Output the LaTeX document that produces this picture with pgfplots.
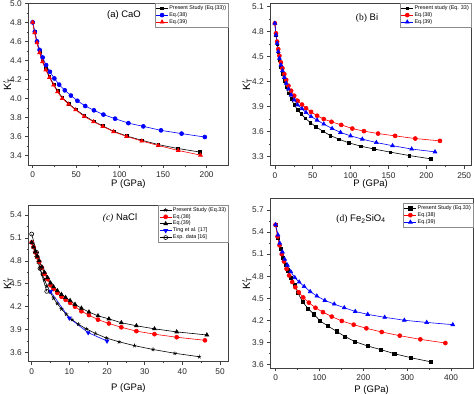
\documentclass[border=0pt]{standalone}
\usepackage{pgfplots}
\pgfplotsset{compat=1.18}
\usepackage{fontspec}
\setmainfont{Liberation Sans}
\newfontfamily\seriffont{Liberation Serif}
\newcommand{\KT}{K\rlap{\textsuperscript{$\prime$}}\textsubscript{T}}
\pgfplotsset{
  panel/.style={
    scale only axis, anchor=north west,
    axis line style={black!75, line width=0.6pt},
    tick align=outside, xtick pos=left, ytick pos=left,
    minor x tick num=1, minor y tick num=1,
    major tick length=3pt, minor tick length=1.6pt,
    every tick/.style={black!75, line width=0.5pt},
    /pgf/number format/assume math mode=true,
    tick label style={font=\fontsize{8.3}{9}\selectfont, black!85},
    yticklabel style={/pgf/number format/.cd, fixed, fixed zerofill, precision=1},
    xticklabel style={/pgf/number format/.cd, fixed, precision=0},
    label style={font=\fontsize{9.5}{10}\selectfont},
    ylabel style={font=\fontsize{10.5}{11}\selectfont},
    xlabel={P (GPa)}, ylabel={\KT},
    clip=false,
    legend cell align=left,
    legend style={at={(1,1)}, anchor=north east, draw=black!45, line width=0.4pt,
      font=\fontsize{5.4}{6}\selectfont, inner sep=1pt, row sep=-0.5pt,
      nodes={inner sep=1pt}},
    legend image code/.code={
      \draw[mark repeat=2, mark phase=2, #1] plot coordinates {(0pt,0pt) (6pt,0pt) (12pt,0pt)};
    },
  },
  ser/.style={line width=0.6pt, mark options={solid}},
}
\begin{document}
\begin{tikzpicture}[x=1pt,y=1pt]
\useasboundingbox (0,0) rectangle (474,-395);
% ---------------- (a) CaO
\begin{axis}[panel, at={(28.3pt,-3.3pt)}, width=200pt, height=161.7pt,
  xmin=-5, xmax=225, ymin=3.3, ymax=5.0,
  xtick={0,50,100,150,200}, ytick={3.4,3.6,3.8,4.0,4.2,4.4,4.6,4.8,5.0},
  xlabel style={at={(axis description cs:0.5,-0.1175)}, anchor=center},
  ylabel style={at={(axis description cs:-0.1015,0.5)}, anchor=center}]
\addplot[ser, black, mark=square*, mark size=1.3pt] coordinates {
(0,4.80)(2.3,4.70)(5,4.59)(7.9,4.49)(11.3,4.39)(15.1,4.31)(19.3,4.23)(24,4.15)(28.6,4.08)(34,4.01)(41.3,3.945)(49.4,3.885)(59.3,3.82)(70,3.76)(80.7,3.71)(93,3.655)(108,3.605)(125.5,3.56)(144.4,3.515)(166.6,3.474)(192.3,3.436)};
\addlegendentry{Present Study (Eq.(33))}
\addplot[ser, blue, mark=*, mark size=2pt] coordinates {
(0,4.80)(2.5,4.70)(5,4.60)(8,4.51)(11.5,4.43)(15.5,4.35)(19.8,4.28)(25,4.21)(30.5,4.145)(37,4.085)(44,4.03)(51.5,3.975)(60.5,3.92)(70.5,3.875)(81.4,3.83)(94.8,3.787)(110.1,3.74)(127.3,3.706)(147.6,3.664)(171.3,3.63)(198,3.594)};
\addlegendentry{Eq.(38)}
\addplot[ser, red, mark=triangle*, mark size=2.2pt] coordinates {
(0,4.80)(2.3,4.69)(5,4.585)(7.9,4.48)(11.3,4.385)(15.1,4.30)(19.3,4.22)(24,4.14)(28.6,4.07)(34,4.00)(41.3,3.94)(49.4,3.88)(59.3,3.81)(70,3.755)(80.7,3.706)(93,3.65)(108,3.60)(125.5,3.552)(144.5,3.505)(167.4,3.453)(193,3.404)};
\addlegendentry{Eq.(39)}
\node[font=\fontsize{9.5}{10}\selectfont] at (axis description cs:0.4785,0.928) {(a) CaO};
\end{axis}
% ---------------- (b) Bi
\begin{axis}[panel, at={(270.3pt,-3.3pt)}, width=200.7pt, height=162.4pt,
  xmin=-6, xmax=259, ymin=3.19, ymax=5.14,
  xtick={0,50,100,150,200,250}, ytick={3.3,3.6,3.9,4.2,4.5,4.8,5.1},
  xlabel style={at={(axis description cs:0.5,-0.1145)}, anchor=center},
  ylabel style={at={(axis description cs:-0.116,0.5)}, anchor=center}]
\addplot[ser, black, mark=square*, mark size=1.3pt] coordinates {
(0,4.90)(1.5,4.76)(3,4.65)(4.5,4.55)(6,4.46)(8,4.37)(10,4.29)(12.5,4.21)(15,4.13)(18,4.06)(21.5,3.99)(25.6,3.92)(30,3.86)(34.9,3.81)(40.2,3.76)(46.9,3.708)(54.4,3.656)(63.2,3.605)(73.4,3.552)(84.5,3.509)(97.8,3.464)(113.3,3.425)(131,3.39)(152.3,3.353)(177.5,3.312)(206,3.272)};
\addlegendentry{Present study (Eq. 33)}
\addplot[ser, red, mark=*, mark size=2pt] coordinates {
(0,4.90)(1.5,4.78)(3,4.68)(4.5,4.59)(6,4.51)(8,4.43)(10,4.36)(12.5,4.29)(15,4.22)(18,4.15)(21.5,4.09)(25.6,4.03)(30,3.97)(35.9,3.924)(41.2,3.88)(47.8,3.836)(55.8,3.79)(64.6,3.75)(74.8,3.717)(87.6,3.68)(102.3,3.636)(117.7,3.605)(136.3,3.576)(158.8,3.548)(185.4,3.516)(218,3.488)};
\addlegendentry{Eq.(38)}
\addplot[ser, blue, mark=triangle*, mark size=2.2pt] coordinates {
(0,4.90)(1.5,4.76)(3,4.66)(4.5,4.56)(6,4.48)(8,4.40)(10,4.33)(12.5,4.25)(15,4.18)(18,4.11)(21.5,4.04)(25.6,3.98)(30,3.92)(35.9,3.873)(41.2,3.828)(47.8,3.78)(55.8,3.737)(64.6,3.69)(75.6,3.636)(86.7,3.59)(100,3.548)(115.5,3.509)(134,3.468)(155.4,3.43)(180.6,3.39)(211.5,3.356)};
\addlegendentry{Eq.(39)}
\node[font=\fontsize{9.5}{10}\selectfont] at (axis description cs:0.482,0.9076) {{\seriffont (b)} Bi};
\end{axis}
% ---------------- (c) NaCl
\begin{axis}[panel, at={(28.3pt,-205pt)}, width=200pt, height=156.7pt,
  xmin=-0.9, xmax=52.2, ymin=3.48, ymax=5.53,
  xtick={0,10,20,30,40,50}, ytick={3.6,3.9,4.2,4.5,4.8,5.1,5.4},
  xlabel style={at={(axis description cs:0.5,-0.166)}, anchor=center},
  ylabel style={at={(axis description cs:-0.1015,0.5)}, anchor=center}]
\addplot[ser, black, mark=star, mark size=2pt] coordinates {
(0,5.04)(0.4,4.98)(0.8,4.91)(1.2,4.85)(1.7,4.78)(2.2,4.70)(2.8,4.62)(3.4,4.55)(4.1,4.47)(4.9,4.39)(5.8,4.31)(6.8,4.24)(7.9,4.17)(9.2,4.10)(10.7,4.03)(12.4,3.97)(14.5,3.91)(16.9,3.85)(19.8,3.79)(23.2,3.74)(27.3,3.69)(32.2,3.64)(38,3.59)(44.5,3.545)};
\addlegendentry{Present Study (Eq.33)}
\addplot[ser, red, mark=*, mark size=2pt] coordinates {
(0,5.04)(0.5,4.98)(1,4.91)(1.5,4.85)(2,4.79)(2.7,4.71)(3.4,4.63)(4.2,4.56)(5,4.48)(5.8,4.43)(6.8,4.38)(7.9,4.33)(9,4.29)(10.2,4.25)(11.5,4.20)(13.2,4.14)(15.2,4.09)(17.6,4.03)(20.5,3.98)(23.8,3.93)(27.8,3.88)(32.6,3.84)(38.5,3.80)(46,3.76)};
\addlegendentry{Eq.(38)}
\addplot[ser, black, mark=triangle*, mark size=2.2pt] coordinates {
(0,5.04)(0.5,4.98)(1,4.92)(1.5,4.86)(2,4.80)(2.7,4.72)(3.4,4.65)(4.2,4.58)(5,4.51)(5.8,4.46)(6.8,4.41)(7.9,4.36)(9,4.32)(10.2,4.28)(11.5,4.23)(13.2,4.18)(15.2,4.13)(17.6,4.08)(20.5,4.04)(23.8,3.99)(27.8,3.95)(32.6,3.91)(38.5,3.87)(46.5,3.83)};
\addlegendentry{Eq.(39)}
\addplot[ser, blue, mark=triangle*, mark size=2.2pt, mark options={rotate=180}] coordinates {
(5,4.40)(10,4.05)(15,3.86)(20,3.75)};
\addlegendentry{Ting et al. [17]}
\addplot[ser, black, mark=o, mark size=2pt, mark options={fill=white}] coordinates {
(0,5.15)(1.3,4.91)(2.2,4.70)(4,4.40)};
\addlegendentry{Exp. data [16]}
\node[font=\fontsize{9.5}{10}\selectfont] at (axis description cs:0.4585,0.915) {{\seriffont\itshape (c)} NaCl};
\end{axis}
% ---------------- (d) Fe2SiO4
\begin{axis}[panel, at={(270.3pt,-198.3pt)}, width=202.7pt, height=170pt,
  xmin=-12, xmax=450, ymin=3.546, ymax=5.86,
  xtick={0,100,200,300,400}, ytick={3.6,3.9,4.2,4.5,4.8,5.1,5.4,5.7},
  xlabel style={at={(axis description cs:0.5,-0.128)}, anchor=center},
  ylabel style={at={(axis description cs:-0.115,0.5)}, anchor=center},
  legend style={at={(1,0.97)}}]
\addplot[ser, black, mark=square*, mark size=1.6pt] coordinates {
(0,5.50)(5.9,5.32)(11.4,5.17)(16.7,5.05)(22.9,4.96)(28.2,4.88)(34.3,4.78)(43.4,4.68)(51.1,4.57)(61.7,4.45)(74,4.36)(87.7,4.28)(101.5,4.19)(119.7,4.12)(138.7,4.05)(157.7,3.98)(180.6,3.91)(209.6,3.85)(240,3.80)(270.6,3.745)(308.6,3.69)(352.9,3.635)};
\addlegendentry{Present Study (Eq.33)}
\addplot[ser, red, mark=*, mark size=2pt] coordinates {
(0,5.50)(4.5,5.34)(9,5.22)(14,5.10)(19,5.00)(25,4.90)(31,4.81)(38,4.72)(45,4.65)(53,4.58)(63,4.51)(76,4.44)(91,4.37)(108,4.31)(128,4.25)(151,4.19)(178,4.14)(207,4.09)(242,4.04)(283,3.99)(330,3.94)(387,3.89)};
\addlegendentry{Eq.(38)}
\addplot[ser, blue, mark=triangle*, mark size=2.2pt] coordinates {
(0,5.50)(5.7,5.36)(9.5,5.25)(15.6,5.13)(20.9,5.03)(27,4.95)(34.7,4.86)(43.8,4.78)(53.8,4.72)(65.2,4.66)(78.9,4.59)(94.1,4.53)(112.4,4.47)(133.8,4.42)(156.6,4.37)(181.7,4.32)(210,4.28)(248.7,4.24)(293.4,4.20)(344.5,4.17)(404,4.14)};
\addlegendentry{Eq.(39)}
\node[font=\fontsize{9.5}{10}\selectfont] at (axis description cs:0.4475,0.878) {{\seriffont (d)} Fe\textsubscript{2}SiO\textsubscript{4}};
\end{axis}
\end{tikzpicture}
\end{document}
